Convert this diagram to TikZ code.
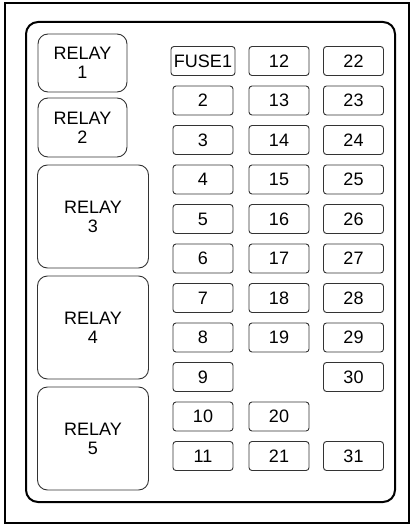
\documentclass[tikz,border=0pt]{standalone}
\usepackage{fontspec}
\setmainfont{Liberation Sans}
\tikzset{
  relaybox/.style={draw=black!80, line width=0.9pt, rounded corners=10pt,
    align=center, inner sep=0pt, font=\fontsize{18}{19}\selectfont},
  fusebox/.style={draw=black!80, line width=0.9pt, rounded corners=3pt,
    minimum width=60pt, minimum height=29pt, inner sep=0pt,
    font=\fontsize{18}{19}\selectfont}
}
\begin{document}
\begin{tikzpicture}[x=1pt, y=-1pt]
      \useasboundingbox (0,0) rectangle (414,527);

      % panel outline and inner box
      \draw[line width=1.5pt] (5,3) rectangle (409,523);
      \draw[line width=2pt, rounded corners=12pt] (26,22) rectangle (395,502);

      % relays
      \node[relaybox, minimum width=89pt, minimum height=58pt] (relay1) at (82.5,63) {RELAY\\1};
      \node[relaybox, minimum width=89pt, minimum height=59pt] (relay2) at (82.5,127.5) {RELAY\\2};
      \node[relaybox, minimum width=111pt, minimum height=103pt] (relay3) at (93,216.5) {RELAY\\3};
      \node[relaybox, minimum width=111pt, minimum height=103pt] (relay4) at (93,327.5) {RELAY\\4};
      \node[relaybox, minimum width=111pt, minimum height=103pt] (relay5) at (93,438.5) {RELAY\\5};

      % first column of fuses
      \node[fusebox, minimum width=64pt] (fuse1) at (203,61) {FUSE1};
      \node[fusebox] (fuse2) at (203,100.5) {2};
      \node[fusebox] (fuse3) at (203,140) {3};
      \node[fusebox] (fuse4) at (203,179.5) {4};
      \node[fusebox] (fuse5) at (203,219) {5};
      \node[fusebox] (fuse6) at (203,258.5) {6};
      \node[fusebox] (fuse7) at (203,298) {7};
      \node[fusebox] (fuse8) at (203,337.5) {8};
      \node[fusebox] (fuse9) at (203,377) {9};
      \node[fusebox] (fuse10) at (203,416.5) {10};
      \node[fusebox] (fuse11) at (203,456) {11};

      % second column
      \node[fusebox] (fuse12) at (279,61) {12};
      \node[fusebox] (fuse13) at (279,100.5) {13};
      \node[fusebox] (fuse14) at (279,140) {14};
      \node[fusebox] (fuse15) at (279,179.5) {15};
      \node[fusebox] (fuse16) at (279,219) {16};
      \node[fusebox] (fuse17) at (279,258.5) {17};
      \node[fusebox] (fuse18) at (279,298) {18};
      \node[fusebox] (fuse19) at (279,337.5) {19};
      \node[fusebox] (fuse20) at (279,416.5) {20};
      \node[fusebox] (fuse21) at (279,456) {21};

      % third column
      \node[fusebox] (fuse22) at (353.5,61) {22};
      \node[fusebox] (fuse23) at (353.5,100.5) {23};
      \node[fusebox] (fuse24) at (353.5,140) {24};
      \node[fusebox] (fuse25) at (353.5,179.5) {25};
      \node[fusebox] (fuse26) at (353.5,219) {26};
      \node[fusebox] (fuse27) at (353.5,258.5) {27};
      \node[fusebox] (fuse28) at (353.5,298) {28};
      \node[fusebox] (fuse29) at (353.5,337.5) {29};
      \node[fusebox] (fuse30) at (353.5,377) {30};
      \node[fusebox] (fuse31) at (353.5,456) {31};
    \end{tikzpicture}
\end{document}
